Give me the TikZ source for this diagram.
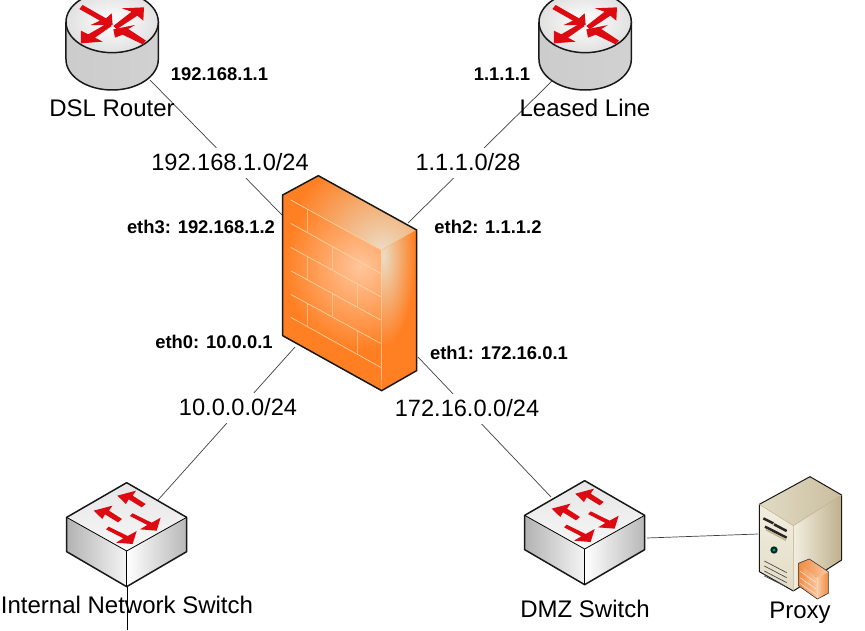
\documentclass[tikz,border=0pt]{standalone}
\usepackage{fontspec}
\usetikzlibrary{arrows.meta}
\setmainfont{Liberation Sans}
\definecolor{fwo}{HTML}{FF7F22}
\definecolor{fwc}{HTML}{EBDCC4}
\definecolor{brick}{HTML}{F9D9A8}
\definecolor{arrowred}{HTML}{DE0A12}
\definecolor{srvlight}{HTML}{F2EEDF}
\definecolor{srvmid}{HTML}{E2DCC6}
\definecolor{srvdark}{HTML}{BFB08C}
\definecolor{peach}{HTML}{F9C8A0}
\definecolor{peachdark}{HTML}{F08A40}
\tikzset{
  x=1pt,y=-1pt,
  netlabel/.style={font=\fontsize{23.6}{23.6}\selectfont,anchor=base,inner xsep=1pt,inner ysep=0pt,fill=white,text height=22pt,text depth=8pt},
  devlabel/.style={font=\fontsize{24}{24}\selectfont,anchor=base,inner sep=0pt},
  iflabel/.style={font=\fontsize{18.4}{18.4}\selectfont\bfseries,anchor=base,inner sep=0pt},
  link/.style={draw=black!75,line width=0.7pt},
  outline/.style={draw=black!90,line width=1.5pt,line join=round},
  routericon/.pic={
    \begin{scope}[x=0.3333pt,y=-0.3333pt]
      \shade[left color=black!20,middle color=white,right color=black!18]
        (198,66) -- (198,178) arc[start angle=180,end angle=0,x radius=138.5,y radius=92] -- (475,66) -- cycle;
      \draw[outline] (198,66) -- (198,178) arc[start angle=180,end angle=0,x radius=138.5,y radius=92] -- (475,66);
      \shade[outline,inner color=white,outer color=black!12] (336.5,66) ellipse[x radius=138.5,y radius=92];
      \fill[arrowred] (248,15) -- (318,55) -- (335,40) -- (338,75) -- (272,75) -- (300,62) -- (238,27) -- cycle;
      \fill[arrowred] (432,22) -- (430,62) -- (412,47) -- (350,88) -- (340,78) -- (395,35) -- (365,25) -- cycle;
      \fill[arrowred] (243,130) -- (243,92) -- (265,103) -- (325,68) -- (335,78) -- (285,113) -- (308,125) -- cycle;
      \fill[arrowred] (340,88) -- (405,75) -- (385,87) -- (438,122) -- (428,133) -- (368,104) -- (345,113) -- cycle;
    \end{scope}
  },
  switcharrowA/.pic={
    \fill[arrowred] (232,77) -- (288,62) -- (278,77) -- (317,102) -- (305,112) -- (266,88) -- (258,102) -- cycle;
  },
  switcharrowC/.pic={
    \fill[arrowred] (278,130) -- (335,158) -- (362,143) -- (350,182) -- (300,178) -- (322,165) -- (270,138) -- cycle;
  },
  switchicon/.pic={
    \begin{scope}[x=0.3333pt,y=-0.3333pt]
      \shade[left color=black!30,right color=black!4] (80,142) -- (260,243) -- (260,350) -- (80,245) -- cycle;
      \shade[left color=white,right color=black!28] (260,243) -- (440,142) -- (440,245) -- (260,350) -- cycle;
      \shade[top color=black!10,bottom color=black!3] (260,38) -- (440,142) -- (260,243) -- (80,142) -- cycle;
      \draw[outline] (260,38) -- (440,142) -- (440,245) -- (260,350) -- (80,245) -- (80,142) -- cycle;
      \draw[black,line width=0.8pt] (80,142) -- (260,243) -- (440,142);
      \draw[black,line width=0.8pt] (260,243) -- (260,350);
      \pic at (0,0) {switcharrowA};
      \pic at (-71,45) {switcharrowA};
      \pic at (0,0) {switcharrowC};
      \pic at (-72,40) {switcharrowC};
    \end{scope}
  },
}
\begin{document}
\begin{tikzpicture}
\useasboundingbox (0,0) rectangle (865,630);
\clip (0,0) rectangle (865,630);
% anchor points
\coordinate (dsl) at (150,80);
\coordinate (leased) at (553,80);
\coordinate (fwdsl) at (282,215);
\coordinate (fwleased) at (408,223);
\coordinate (fwint) at (295,347);
\coordinate (fwdmz) at (418,357);
\coordinate (intsw) at (158,500);
\coordinate (dmzsw) at (551,497);
\coordinate (dmzright) at (647,538);
\coordinate (proxy) at (758,534);
\coordinate (intbottom) at (127,587);
\coordinate (intdown) at (127,630);
% connectors
\draw[link] (dsl) -- (fwdsl);
\draw[link] (leased) -- (fwleased);
\draw[link] (fwint) -- (intsw);
\draw[link] (fwdmz) -- (dmzsw);
\draw[link] (dmzright) -- (proxy);
\draw[black,line width=0.9pt] (intbottom) -- (intdown);
% routers and switches
\pic at (0,0) {routericon};
\pic at (473,0) {routericon};
\pic at (40,470) {switchicon};
\pic at (498,468) {switchicon};
% firewall
\begin{scope}[shift={(260,160)},x=0.3333pt,y=-0.3333pt]
  \begin{scope}
    \clip (68,105) -- (365,270) -- (365,692) -- (68,527) -- cycle;
    \fill[fwo] (60,40) rectangle (370,700);
    \shade[inner color=fwo!45!white,outer color=fwo] (300,320) ellipse[x radius=230,y radius=250];
  \end{scope}
  \begin{scope}
    \clip (68,105) -- (175,47) -- (470,210) -- (365,270) -- cycle;
    \fill[fwo] (60,40) rectangle (475,280);
    \shade[inner color=fwc,outer color=fwo] (365,270) circle[radius=290];
  \end{scope}
  \begin{scope}
    \clip (365,270) -- (470,210) -- (470,632) -- (365,692) -- cycle;
    \fill[fwo] (360,200) rectangle (475,700);
    \shade[inner color=fwc,outer color=fwo] (370,290) ellipse[x radius=95,y radius=270];
  \end{scope}
  \draw[brick,line width=0.6pt]
    (92,120) -- (365,270) (92,190) -- (362,340) (92,262) -- (362,410)
    (92,332) -- (362,480) (92,403) -- (362,550) (92,472) -- (362,622)
    (142,148) -- (142,218) (217,260) -- (217,328) (142,290) -- (142,358)
    (292,375) -- (292,440) (217,398) -- (217,468) (142,430) -- (142,502)
    (292,512) -- (292,582) (365,270) -- (365,660);
  \draw[outline] (68,105) -- (175,47) -- (470,210) -- (470,632) -- (365,692) -- (68,527) -- cycle;
\end{scope}
% proxy server
\begin{scope}[shift={(730,465)},x=0.3333pt,y=-0.3333pt]
  \shade[top color=srvlight,bottom color=srvmid] (88,118) -- (190,182) -- (190,378) -- (88,320) -- cycle;
  \shade[left color=srvlight,right color=srvdark] (190,182) -- (335,90) -- (335,285) -- (190,378) -- cycle;
  \shade[left color=srvmid,right color=srvdark!70!srvmid] (88,118) -- (240,35) -- (335,90) -- (190,182) -- cycle;
  \draw[outline,line width=1pt] (88,118) -- (240,35) -- (335,90) -- (335,285) -- (190,378) -- (88,320) -- cycle;
  \draw[srvdark,line width=0.5pt] (88,118) -- (190,182) -- (335,90) (190,182) -- (190,378);
  \draw[black!85,line width=2.5pt] (100,160) -- (130,175) (132,178) -- (170,198);
  \draw[black!85,line width=2.5pt] (105,185) -- (170,218);
  \draw[srvdark,line width=1.5pt] (108,194) -- (168,226);
  \fill[black!70!teal] (132,255) circle[radius=11];
  \fill[teal!70!green] (132,255) circle[radius=5];
  \draw[black!70,line width=0.7pt] (103,288) -- (170,323) (103,303) -- (170,338) (103,318) -- (170,353) (103,333) -- (170,366);
  \shade[left color=peachdark,right color=peach] (205,295) -- (262,338) -- (262,402) -- (205,362) -- cycle;
  \shade[left color=peach,right color=peachdark] (262,338) -- (295,320) -- (295,385) -- (262,402) -- cycle;
  \shade[left color=peachdark,right color=peach] (205,295) -- (238,282) -- (295,320) -- (262,338) -- cycle;
  \draw[white!70!peach,line width=0.4pt] (210,318) -- (258,352) (210,338) -- (258,372) (210,355) -- (258,388)
    (225,312) -- (225,330) (240,340) -- (240,360) (225,350) -- (225,368);
  \draw[black!80,line width=0.6pt] (205,295) -- (238,282) -- (295,320) -- (295,385) -- (262,402) -- (205,362) -- cycle;
\end{scope}
% labels
\node[iflabel] (lbldsl) at (219.5,80) {192.168.1.1};
\node[iflabel] (lblleased) at (502,80) {1.1.1.1};
\node[devlabel] (nmdsl) at (112,116) {DSL Router};
\node[devlabel] (nmleased) at (585,116) {Leased Line};
\node[netlabel] (netdsl) at (230,170) {192.168.1.0/24};
\node[netlabel] (netleased) at (468,170) {1.1.1.0/28};
\node[iflabel] (eththree) at (201,233) {eth3: 192.168.1.2};
\node[iflabel] (ethtwo) at (488,233) {eth2: 1.1.1.2};
\node[iflabel] (ethzero) at (214,348) {eth0: 10.0.0.1};
\node[iflabel] (ethone) at (499,359) {eth1: 172.16.0.1};
\node[netlabel] (netint) at (238,415) {10.0.0.0/24};
\node[netlabel] (netdmz) at (467,416) {172.16.0.0/24};
\node[devlabel] (nmint) at (127,613) {Internal Network Switch};
\node[devlabel] (nmdmz) at (585,617) {DMZ Switch};
\node[devlabel] (nmproxy) at (800,618) {Proxy};
\end{tikzpicture}
\end{document}
